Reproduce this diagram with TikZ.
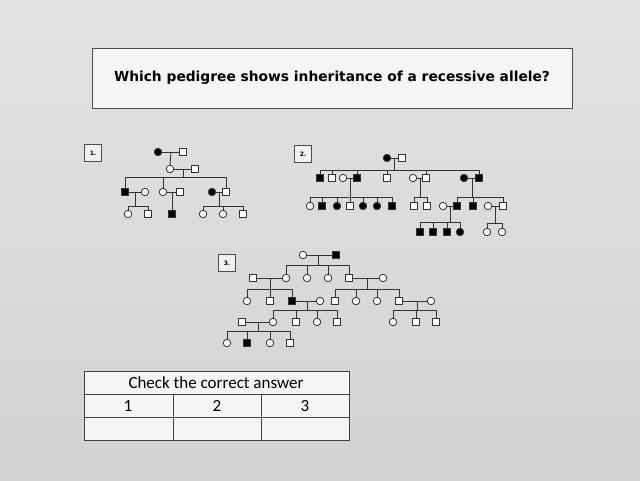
\documentclass[tikz,border=0pt]{standalone}
\usepackage{fontspec}
\setmainfont{Carlito}
\newfontfamily\titlefont{DejaVu Sans}
\usetikzlibrary{calc}
\begin{document}
\begin{tikzpicture}[x=1pt,y=-1pt,
  ln/.style={draw=black!80,line width=0.9pt},
  sq/.style={draw=black!80,line width=0.8pt,minimum size=7pt,inner sep=0pt,fill=white},
  sqf/.style={sq,fill=black},
  ci/.style={draw=black!80,line width=0.8pt,circle,minimum size=7.5pt,inner sep=0pt,fill=white},
  cif/.style={ci,fill=black},
  lab/.style={draw=black!70,line width=0.9pt,minimum size=17pt,inner sep=0pt,font=\titlefont\bfseries\fontsize{6}{7}\selectfont,fill=white!90!gray},
  cell/.style={draw=black!75,line width=0.8pt},
  tt/.style={font=\fontsize{17}{19}\selectfont}]
\useasboundingbox (0,0) rectangle (640,480);
\shade[top color=gray!22,bottom color=gray!35] (0,0) rectangle (640,480);
% title
\node[draw=black!70,line width=0.9pt,minimum width=480pt,minimum height=60pt,fill=white!92!gray,font=\titlefont\bfseries\fontsize{13.8}{15}\selectfont] (title) at (332,78) {Which pedigree shows inheritance of a recessive allele?};
% ===== pedigree 1
\node[lab] (l1) at (93,153) {1.};
\begin{scope}[ln]
\node[cif] (a1) at (158,152) {}; \node[sq] (a2) at (183,152) {};
\draw (a1)--(a2);
\node[ci] (b1) at (170,169) {}; \node[sq] (b2) at (195,169) {};
\draw (b1)--(b2);
\draw (171,152)--(b1.north);
\draw (183,169)--(183,177); \draw (125,177)--(226,177);
\node[sqf] (c1) at (125,192) {}; \node[ci] (c2) at (145,192) {};
\node[ci] (c3) at (163,192) {}; \node[sq] (c4) at (180,192) {};
\node[cif] (c5) at (212,192) {}; \node[sq] (c6) at (226,192) {};
\draw (c1)--(c2); \draw (c3)--(c4); \draw (c5)--(c6);
\draw (125,177)--(c1.north); \draw (163,177)--(c3.north); \draw (226,177)--(c6.north);
\draw (135,192)--(135,206)--(128,206); \draw (128,206)--(148,206);
\node[ci] (d1) at (128,214) {}; \node[sq] (d2) at (148,214) {};
\draw (128,206)--(d1.north); \draw (148,206)--(d2.north);
\node[sqf] (d3) at (172,214) {}; \draw (172,192)--(d3.north);
\draw (219,192)--(219,206); \draw (203,206)--(243,206);
\node[ci] (d4) at (203,214) {}; \node[ci] (d5) at (223,214) {}; \node[sq] (d6) at (243,214) {};
\draw (203,206)--(d4.north); \draw (223,206)--(d5.north); \draw (243,206)--(d6.north);
\end{scope}
% ===== pedigree 2
\node[lab] (l2) at (303,154) {2.};
\begin{scope}[ln]
\node[cif] (e1) at (387,158) {}; \node[sq] (e2) at (402,158) {};
\draw (e1)--(e2);
\draw (394,158)--(394,170); \draw (320,170)--(480,170);
\node[sqf] (f1) at (320,178) {}; \node[sq] (f2) at (332,178) {};
\node[ci] (f3) at (343,178) {}; \node[sqf] (f4) at (357,178) {};
\node[sq] (f5) at (387,178) {}; \node[ci] (f6) at (413,178) {};
\node[sq] (f7) at (426,178) {}; \node[cif] (f8) at (464,178) {};
\node[sqf] (f9) at (479,178) {};
\draw (f3)--(f4); \draw (f6)--(f7); \draw (f8)--(f9);
\foreach \n/\x in {f1/320,f2/332,f4/357,f5/387,f7/426,f9/479} \draw (\x,170)--(\n.north);
\draw (350,178)--(350,197); \draw (310,197)--(392,197);
\node[ci] (g1) at (310,206) {}; \node[sqf] (g2) at (322,206) {};
\node[cif] (g3) at (337,206) {}; \node[sq] (g4) at (350,206) {};
\node[cif] (g5) at (363,206) {}; \node[cif] (g6) at (377,206) {};
\node[sqf] (g7) at (392,206) {};
\foreach \n/\x in {g1/310,g2/322,g3/337,g4/350,g5/363,g6/377,g7/392} \draw (\x,197)--(\n.north);
\draw (420,178)--(420,197); \draw (414,197)--(427,197);
\node[sq] (g8) at (414,206) {}; \node[sq] (g9) at (427,206) {};
\draw (414,197)--(g8.north); \draw (427,197)--(g9.north);
\draw (472,178)--(472,197); \draw (457,197)--(503,197);
\node[ci] (h1) at (443,206) {}; \node[sqf] (h2) at (457,206) {};
\node[sqf] (h3) at (473,206) {}; \node[ci] (h4) at (488,206) {};
\node[sq] (h5) at (503,206) {};
\draw (h1)--(h2); \draw (h4)--(h5);
\draw (457,197)--(h2.north); \draw (473,197)--(h3.north); \draw (503,197)--(h5.north);
\draw (450,206)--(450,222); \draw (420,222)--(460,222);
\node[sqf] (i1) at (420,232) {}; \node[sqf] (i2) at (433,232) {};
\node[sqf] (i3) at (447,232) {}; \node[cif] (i4) at (460,232) {};
\foreach \n/\x in {i1/420,i2/433,i3/447,i4/460} \draw (\x,222)--(\n.north);
\draw (495,206)--(495,223); \draw (487,223)--(502,223);
\node[ci] (i5) at (487,232) {}; \node[ci] (i6) at (502,232) {};
\draw (487,223)--(i5.north); \draw (502,223)--(i6.north);
\end{scope}
% ===== pedigree 3
\node[lab] (l3) at (227,263) {3.};
\begin{scope}[ln]
\node[ci] (j1) at (303,255) {}; \node[sqf] (j2) at (336,255) {};
\draw (j1)--(j2);
\draw (318,255)--(318,265); \draw (286,265)--(350,265);
\node[sq] (k0) at (253,278) {}; \node[ci] (k1) at (286,278) {};
\node[ci] (k2) at (307,278) {}; \node[ci] (k3) at (328,278) {};
\node[sq] (k4) at (349,278) {}; \node[ci] (k5) at (383,278) {};
\draw (k0)--(k1); \draw (k4)--(k5);
\foreach \n/\x in {k1/286,k2/307,k3/328,k4/349} \draw (\x,265)--(\n.north);
\draw (270,278)--(270,289); \draw (247,289)--(292,289);
\node[ci] (m1) at (247,301) {}; \node[sq] (m2) at (270,301) {};
\node[sqf] (m3) at (292,301) {}; \node[ci] (m4) at (320,301) {};
\draw (m3)--(m4);
\foreach \n/\x in {m1/247,m2/270,m3/292} \draw (\x,289)--(\n.north);
\draw (307,301)--(307,310); \draw (273,310)--(337,310);
\node[sq] (n0) at (242,322) {}; \node[ci] (n1) at (273,322) {};
\node[sq] (n2) at (296,322) {}; \node[ci] (n3) at (317,322) {};
\node[sq] (n4) at (337,322) {};
\draw (n0)--(n1);
\foreach \n/\x in {n1/273,n2/296,n3/317,n4/337} \draw (\x,310)--(\n.north);
\draw (258,322)--(258,331); \draw (227,331)--(290,331);
\node[ci] (o1) at (227,343) {}; \node[sqf] (o2) at (247,343) {};
\node[ci] (o3) at (270,343) {}; \node[sq] (o4) at (290,343) {};
\foreach \n/\x in {o1/227,o2/247,o3/270,o4/290} \draw (\x,331)--(\n.north);
\draw (367,278)--(367,289); \draw (335,289)--(399,289);
\node[sq] (p1) at (335,301) {}; \node[ci] (p2) at (356,301) {};
\node[ci] (p3) at (377,301) {}; \node[sq] (p4) at (399,301) {};
\node[ci] (p5) at (431,301) {};
\draw (p4)--(p5);
\foreach \n/\x in {p1/335,p2/356,p3/377,p4/399} \draw (\x,289)--(\n.north);
\draw (417,301)--(417,310); \draw (393,310)--(436,310);
\node[ci] (q1) at (393,322) {}; \node[sq] (q2) at (416,322) {}; \node[sq] (q3) at (436,322) {};
\foreach \n/\x in {q1/393,q2/416,q3/436} \draw (\x,310)--(\n.north);
\end{scope}
% ===== table
\draw[cell,fill=white!92!gray] (84,371) rectangle (349,440);
\draw[cell] (84,394)--(349,394); \draw[cell] (84,417)--(349,417);
\draw[cell] (173,394)--(173,440); \draw[cell] (261,394)--(261,440);
\node[tt] (hd) at (216,383) {Check the correct answer};
\node[tt] (t1) at (128,406) {1};
\node[tt] (t2) at (217,406) {2};
\node[tt] (t3) at (305,406) {3};
\end{tikzpicture}
\end{document}
